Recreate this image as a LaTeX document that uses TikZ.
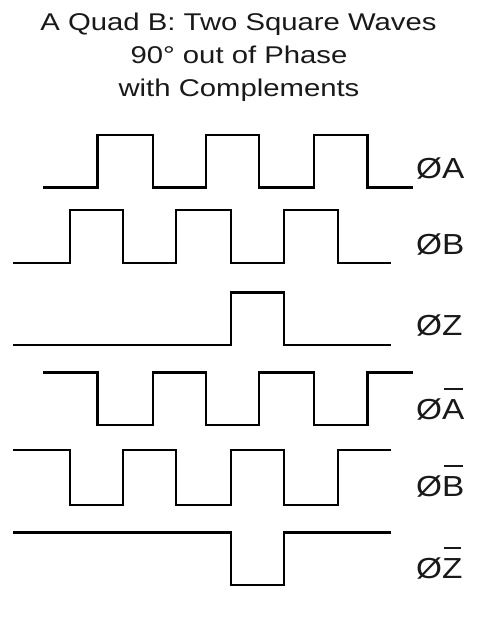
\documentclass[tikz,border=0pt]{standalone}
\usepackage{fontspec}
\setmainfont{Liberation Sans}
\newfontfamily\titlefont[FakeStretch=1.21]{Liberation Sans}
\newfontfamily\labfont[FakeStretch=1.15]{Liberation Sans}
\newcommand\ovlbar[1]{\setbox0\hbox{#1}\rlap{\hspace{0.08\wd0}\raisebox{\dimexpr\ht0+9.5pt\relax}{\rule{0.84\wd0}{1.8pt}}}#1}
\definecolor{inkgray}{RGB}{25,25,25}
\begin{document}
\begin{tikzpicture}[x=1pt,y=-1pt,
  wave/.style={line width=2.9pt, black, line join=miter, line cap=butt},
  titletxt/.style={font=\titlefont\fontsize{24.2}{29}\selectfont, text=inkgray, inner sep=0pt, anchor=base},
  sig/.style={font=\labfont\fontsize{29}{34}\selectfont, text=inkgray, inner sep=0pt, anchor=base west}]
\useasboundingbox (0,0) rectangle (478,620);
% title
\node[titletxt] (t1) at (238.5,30.7) {A Quad B: Two Square Waves};
\node[titletxt] (t2) at (239,63.3) {90° out of Phase};
\node[titletxt] (t3) at (239,96.7) {with Complements};
% labels
\node[sig] (la) at (416,178.3) {ØA};
\node[sig] (lb) at (416,254) {ØB};
\node[sig] (lz) at (416,335.7) {ØZ};
\node[sig] (lan) at (416,419) {Ø\ovlbar{A}};
\node[sig] (lbn) at (416,496.7) {Ø\ovlbar{B}};
\node[sig] (lzn) at (416,578.3) {Ø\ovlbar{Z}};
% waves
\draw[wave] (43,187.5) -- (97.5,187.5) -- (97.5,135) -- (153,135) -- (153,187.5) -- (206,187.5) -- (206,135) -- (259,135) -- (259,187.5) -- (314,187.5) -- (314,135) -- (367.5,135) -- (367.5,187.5) -- (413,187.5);
\draw[wave] (13,263) -- (70,263) -- (70,210) -- (123,210) -- (123,263) -- (176,263) -- (176,210) -- (231,210) -- (231,263) -- (284,263) -- (284,210) -- (338,210) -- (338,263) -- (391,263);
\draw[wave] (13,345) -- (231,345) -- (231,292.5) -- (284,292.5) -- (284,345) -- (391,345);
\draw[wave] (43,372.5) -- (97.5,372.5) -- (97.5,425) -- (153,425) -- (153,372.5) -- (206,372.5) -- (206,425) -- (259,425) -- (259,372.5) -- (314,372.5) -- (314,425) -- (367.5,425) -- (367.5,372.5) -- (413,372.5);
\draw[wave] (13,450) -- (70,450) -- (70,505) -- (123,505) -- (123,450) -- (176,450) -- (176,505) -- (231,505) -- (231,450) -- (284,450) -- (284,505) -- (338,505) -- (338,450) -- (391,450);
\draw[wave] (13,532.5) -- (231,532.5) -- (231,585) -- (284,585) -- (284,532.5) -- (391,532.5);
\end{tikzpicture}
\end{document}
